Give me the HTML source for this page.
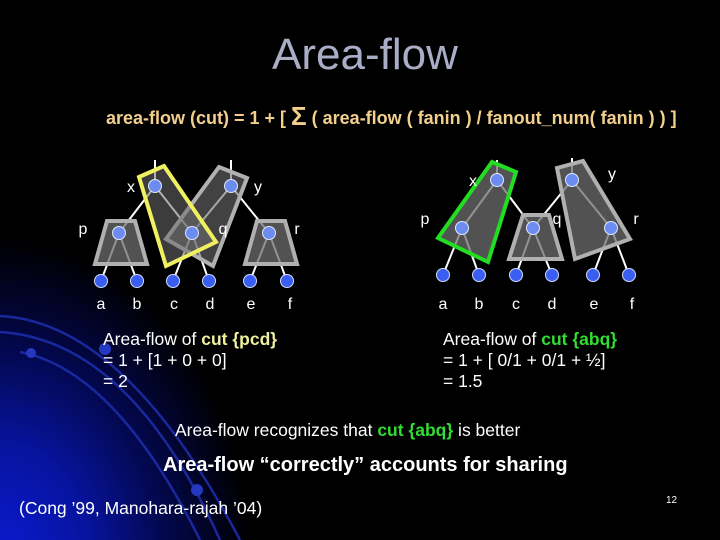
<!DOCTYPE html>
<html><head><meta charset="utf-8"><style>
body{margin:0;background:#000}
#s{position:relative;width:720px;height:540px;overflow:hidden;background:radial-gradient(ellipse 250px 320px at 0px 560px,#0a1ad0 0%,#0714a0 35%,#030850 65%,#000 100%);font-family:"Liberation Sans",sans-serif;color:#fff}
.t{position:absolute;white-space:nowrap}
</style></head><body><div id="s">
<svg width="720" height="540" style="position:absolute;left:0;top:0">
<g fill="none" stroke="#1c2ca8" stroke-width="2.5" opacity="0.9">
<path d="M0 316 Q125 322 240 540"/>
<path d="M0 332 Q130 340 220 540"/>
<path d="M20 352 Q115 370 200 540"/>
</g>
<g fill="#2438c0"><circle cx="31" cy="353" r="5"/><circle cx="105" cy="349" r="6"/><circle cx="197" cy="490" r="6"/></g>
<g stroke="#fff" stroke-width="2" fill="none">
<line x1="155" y1="160" x2="155" y2="186"/><line x1="231" y1="160" x2="231" y2="186"/>
<line x1="155" y1="186" x2="119" y2="233"/><line x1="155" y1="186" x2="192" y2="233"/>
<line x1="231" y1="186" x2="192" y2="233"/><line x1="231" y1="186" x2="269" y2="233"/>
<line x1="119" y1="233" x2="101" y2="281"/><line x1="119" y1="233" x2="137" y2="281"/>
<line x1="192" y1="233" x2="173" y2="281"/><line x1="192" y1="233" x2="209" y2="281"/>
<line x1="269" y1="233" x2="250" y2="281"/><line x1="269" y1="233" x2="287" y2="281"/>
<line x1="497" y1="160" x2="497" y2="180"/><line x1="572" y1="158" x2="572" y2="180"/>
<line x1="497" y1="180" x2="462" y2="228"/><line x1="497" y1="180" x2="533" y2="228"/>
<line x1="572" y1="180" x2="533" y2="228"/><line x1="572" y1="180" x2="611" y2="228"/>
<line x1="462" y1="228" x2="443" y2="275"/><line x1="462" y1="228" x2="479" y2="275"/>
<line x1="533" y1="228" x2="516" y2="275"/><line x1="533" y1="228" x2="552" y2="275"/>
<line x1="611" y1="228" x2="593" y2="275"/><line x1="611" y1="228" x2="629" y2="275"/>
</g>
<g fill="rgba(110,110,110,0.75)" stroke="#b0b0b0" stroke-width="4" stroke-linejoin="miter">
<polygon points="107,221 135,221 147,264 95,264"/>
<polygon points="257,221 285,221 297,264 245,264"/>
<polygon points="219,167 247,178 213,266 166,239" fill="rgba(110,110,110,0.6)"/>
<polygon points="523,215 549,215 562,259 509,259"/>
<polygon points="557,168 583,161 630,239 575,259"/>
</g>
<polygon points="139,177 164,166 216,242 166,266" fill="rgba(110,110,110,0.55)" stroke="#f0f060" stroke-width="4"/>
<polygon points="492,162 516,172 488,262 438,238" fill="rgba(110,110,110,0.75)" stroke="#22dd22" stroke-width="4"/>
<g fill="#6d8cf0" stroke="#e0e8ff" stroke-width="1">
<circle cx="155" cy="186" r="6.5"/><circle cx="231" cy="186" r="6.5"/><circle cx="119" cy="233" r="6.5"/><circle cx="192" cy="233" r="6.5"/><circle cx="269" cy="233" r="6.5"/>
<circle cx="497" cy="180" r="6.5"/><circle cx="572" cy="180" r="6.5"/><circle cx="462" cy="228" r="6.5"/><circle cx="533" cy="228" r="6.5"/><circle cx="611" cy="228" r="6.5"/>
</g>
<g fill="#3a5ef0" stroke="#d0dcff" stroke-width="1">
<circle cx="101" cy="281" r="6.5"/><circle cx="137" cy="281" r="6.5"/><circle cx="173" cy="281" r="6.5"/><circle cx="209" cy="281" r="6.5"/><circle cx="250" cy="281" r="6.5"/><circle cx="287" cy="281" r="6.5"/>
<circle cx="443" cy="275" r="6.5"/><circle cx="479" cy="275" r="6.5"/><circle cx="516" cy="275" r="6.5"/><circle cx="552" cy="275" r="6.5"/><circle cx="593" cy="275" r="6.5"/><circle cx="629" cy="275" r="6.5"/>
</g>
<g fill="#fff" font-family="Liberation Sans,sans-serif" font-size="16" text-anchor="middle">
<text x="131" y="192">x</text><text x="258" y="192">y</text><text x="83" y="234">p</text><text x="223" y="234">q</text><text x="297" y="234">r</text>
<text x="101" y="309">a</text><text x="137" y="309">b</text><text x="174" y="309">c</text><text x="210" y="309">d</text><text x="251" y="309">e</text><text x="290" y="309">f</text>
<text x="473" y="186">x</text><text x="612" y="179">y</text><text x="425" y="224">p</text><text x="557" y="224">q</text><text x="636" y="224">r</text>
<text x="443" y="309">a</text><text x="479" y="309">b</text><text x="516" y="309">c</text><text x="552" y="309">d</text><text x="594" y="309">e</text><text x="632" y="309">f</text>
</g>
</svg>
<div class="t" style="left:272px;top:30px;font-size:44px;color:#a9adc6">Area-flow</div>
<div class="t" style="left:106px;top:100px;font-size:18px;font-weight:bold;color:#f2cf8c">area-flow (cut) = 1 + [ <span style="font-size:26px;position:relative;top:1px">Σ</span> ( area-flow ( fanin ) / fanout_num( fanin ) ) ]</div>
<div class="t" style="left:103px;top:329px;font-size:17.5px;line-height:21px">Area-flow of <b style="color:#f0f0a0">cut {pcd}</b><br>= 1 + [1 + 0 + 0]<br>= 2</div>
<div class="t" style="left:443px;top:329px;font-size:17.5px;line-height:21px">Area-flow of <b style="color:#33dd33">cut {abq}</b><br>= 1 + [ 0/1 + 0/1 + ½]<br>= 1.5</div>
<div class="t" style="left:175px;top:420px;font-size:17.5px">Area-flow recognizes that <b style="color:#33dd33">cut {abq}</b> is better</div>
<div class="t" style="left:163px;top:454px;font-size:20px;font-weight:bold">Area-flow “correctly” accounts for sharing</div>
<div class="t" style="left:19px;top:498px;font-size:17.5px">(Cong ’99, Manohara-rajah ’04)</div>
<div class="t" style="left:666px;top:495px;font-size:10px">12</div>
</div></body></html>
